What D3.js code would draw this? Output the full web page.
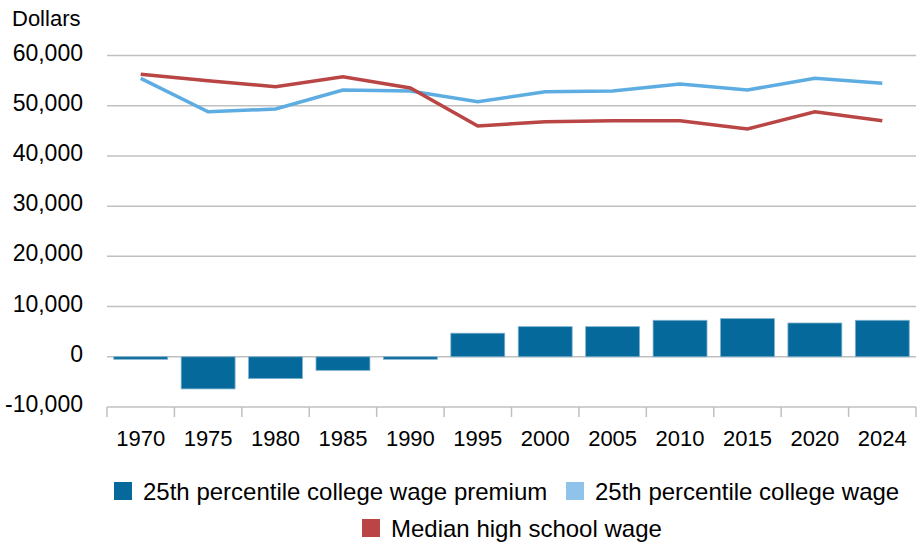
<!DOCTYPE html>
<html>
<head>
<meta charset="utf-8">
<script src="https://cdn.jsdelivr.net/npm/d3@7"></script>
<style>
    body { margin: 0; background: #fff; }
    svg text { font-family: "Liberation Sans", Arial, sans-serif; fill: #000; }
</style>
</head>
<body>
<div id="chart"></div>
<script>
"use strict";

var years = ["1970", "1975", "1980", "1985", "1990", "1995", "2000",
             "2005", "2010", "2015", "2020", "2024"];
var premium = [-500, -6400, -4350, -2700, -500, 4700, 6000, 6000,
               7270, 7600, 6730, 7270];
var collegeWage = [55450, 48800, 49340, 53130, 52930, 50800, 52790,
                   52930, 54320, 53130, 55450, 54460];
var hsWage = [56250, 54980, 53790, 55780, 53530, 45960, 46810, 47010,
              47010, 45360, 48800, 47010];
var yTicks = [-10000, 0, 10000, 20000, 30000, 40000, 50000, 60000];
var legendItems = [
    {label: "25th percentile college wage premium", color: "#05699b", x: 114, y: 482},
    {label: "25th percentile college wage", color: "#8fc3ea", x: 566, y: 482},
    {label: "Median high school wage", color: "#b94545", x: 362, y: 519}
];

var ch = {w: 920, h: 550, left: 107, right: 916, top: 55.5, bottom: 407};

var svg = d3.select("#chart").append("svg")
    .attr("width", ch.w)
    .attr("height", ch.h);

var x = d3.scaleBand().domain(years)
    .range([ch.left, ch.right]).paddingInner(0.2).paddingOuter(0.1);
var xb = d3.scaleBand().domain(years).range([ch.left, ch.right]);
var y = d3.scaleLinear().domain([-10000, 60000]).range([ch.bottom, ch.top]);
var fmt = function (d) { return d3.format(",")(d).replace("\u2212", "-"); };

//gridlines
svg.append("g").selectAll("line")
    .data(yTicks.slice(1))
    .enter().append("line")
    .attr("x1", ch.left).attr("x2", ch.right)
    .attr("y1", function (d) { return y(d); })
    .attr("y2", function (d) { return y(d); })
    .attr("stroke", "#c0c0c0").attr("stroke-width", 1.5);

//y labels
svg.append("g").selectAll("text")
    .data(yTicks)
    .enter().append("text")
    .attr("x", 83)
    .attr("y", function (d) { return y(d) + 5; })
    .attr("text-anchor", "end")
    .attr("font-size", "23px")
    .text(fmt);

svg.append("text").attr("x", 12).attr("y", 26)
    .attr("font-size", "22px").text("Dollars");

//bottom axis at -10,000 with category boundary ticks
svg.append("line")
    .attr("x1", ch.left).attr("x2", ch.right)
    .attr("y1", y(-10000)).attr("y2", y(-10000))
    .attr("stroke", "#c0c0c0").attr("stroke-width", 1.5);
svg.append("g").selectAll("line")
    .data(years.concat(["end"]))
    .enter().append("line")
    .attr("x1", function (d, i) { return i < years.length ? xb(d) : ch.right; })
    .attr("x2", function (d, i) { return i < years.length ? xb(d) : ch.right; })
    .attr("y1", y(-10000)).attr("y2", y(-10000) + 10)
    .attr("stroke", "#c0c0c0").attr("stroke-width", 1.5);

svg.append("g").selectAll("text")
    .data(years)
    .enter().append("text")
    .attr("x", function (d) { return xb(d) + xb.bandwidth() / 2; })
    .attr("y", 446)
    .attr("text-anchor", "middle")
    .attr("font-size", "22px")
    .text(function (d) { return d; });

//bars
svg.append("g").selectAll("rect")
    .data(premium)
    .enter().append("rect")
    .attr("x", function (d, i) { return x(years[i]); })
    .attr("width", x.bandwidth())
    .attr("y", function (d) { return Math.min(y(d), y(0)); })
    .attr("height", function (d) { return Math.abs(y(d) - y(0)); })
    .attr("fill", "#05699b")
    .attr("stroke", "#7fb3cf").attr("stroke-width", 0.8);

var line = d3.line()
    .x(function (d, i) { return xb(years[i]) + xb.bandwidth() / 2; })
    .y(function (d) { return y(d); });

svg.append("path").datum(collegeWage)
    .attr("d", line).attr("fill", "none")
    .attr("stroke", "#5dade2").attr("stroke-width", 3.5);
svg.append("path").datum(hsWage)
    .attr("d", line).attr("fill", "none")
    .attr("stroke", "#b94545").attr("stroke-width", 3.5);

//legend
var lg = svg.append("g").selectAll("g")
    .data(legendItems)
    .enter().append("g")
    .attr("transform", function (d) { return "translate(" + d.x + "," + d.y + ")"; });
lg.append("rect").attr("width", 18).attr("height", 18)
    .attr("fill", function (d) { return d.color; });
lg.append("text").attr("x", 29).attr("y", 18)
    .attr("font-size", "24px")
    .text(function (d) { return d.label; });
</script>
</body>
</html>
